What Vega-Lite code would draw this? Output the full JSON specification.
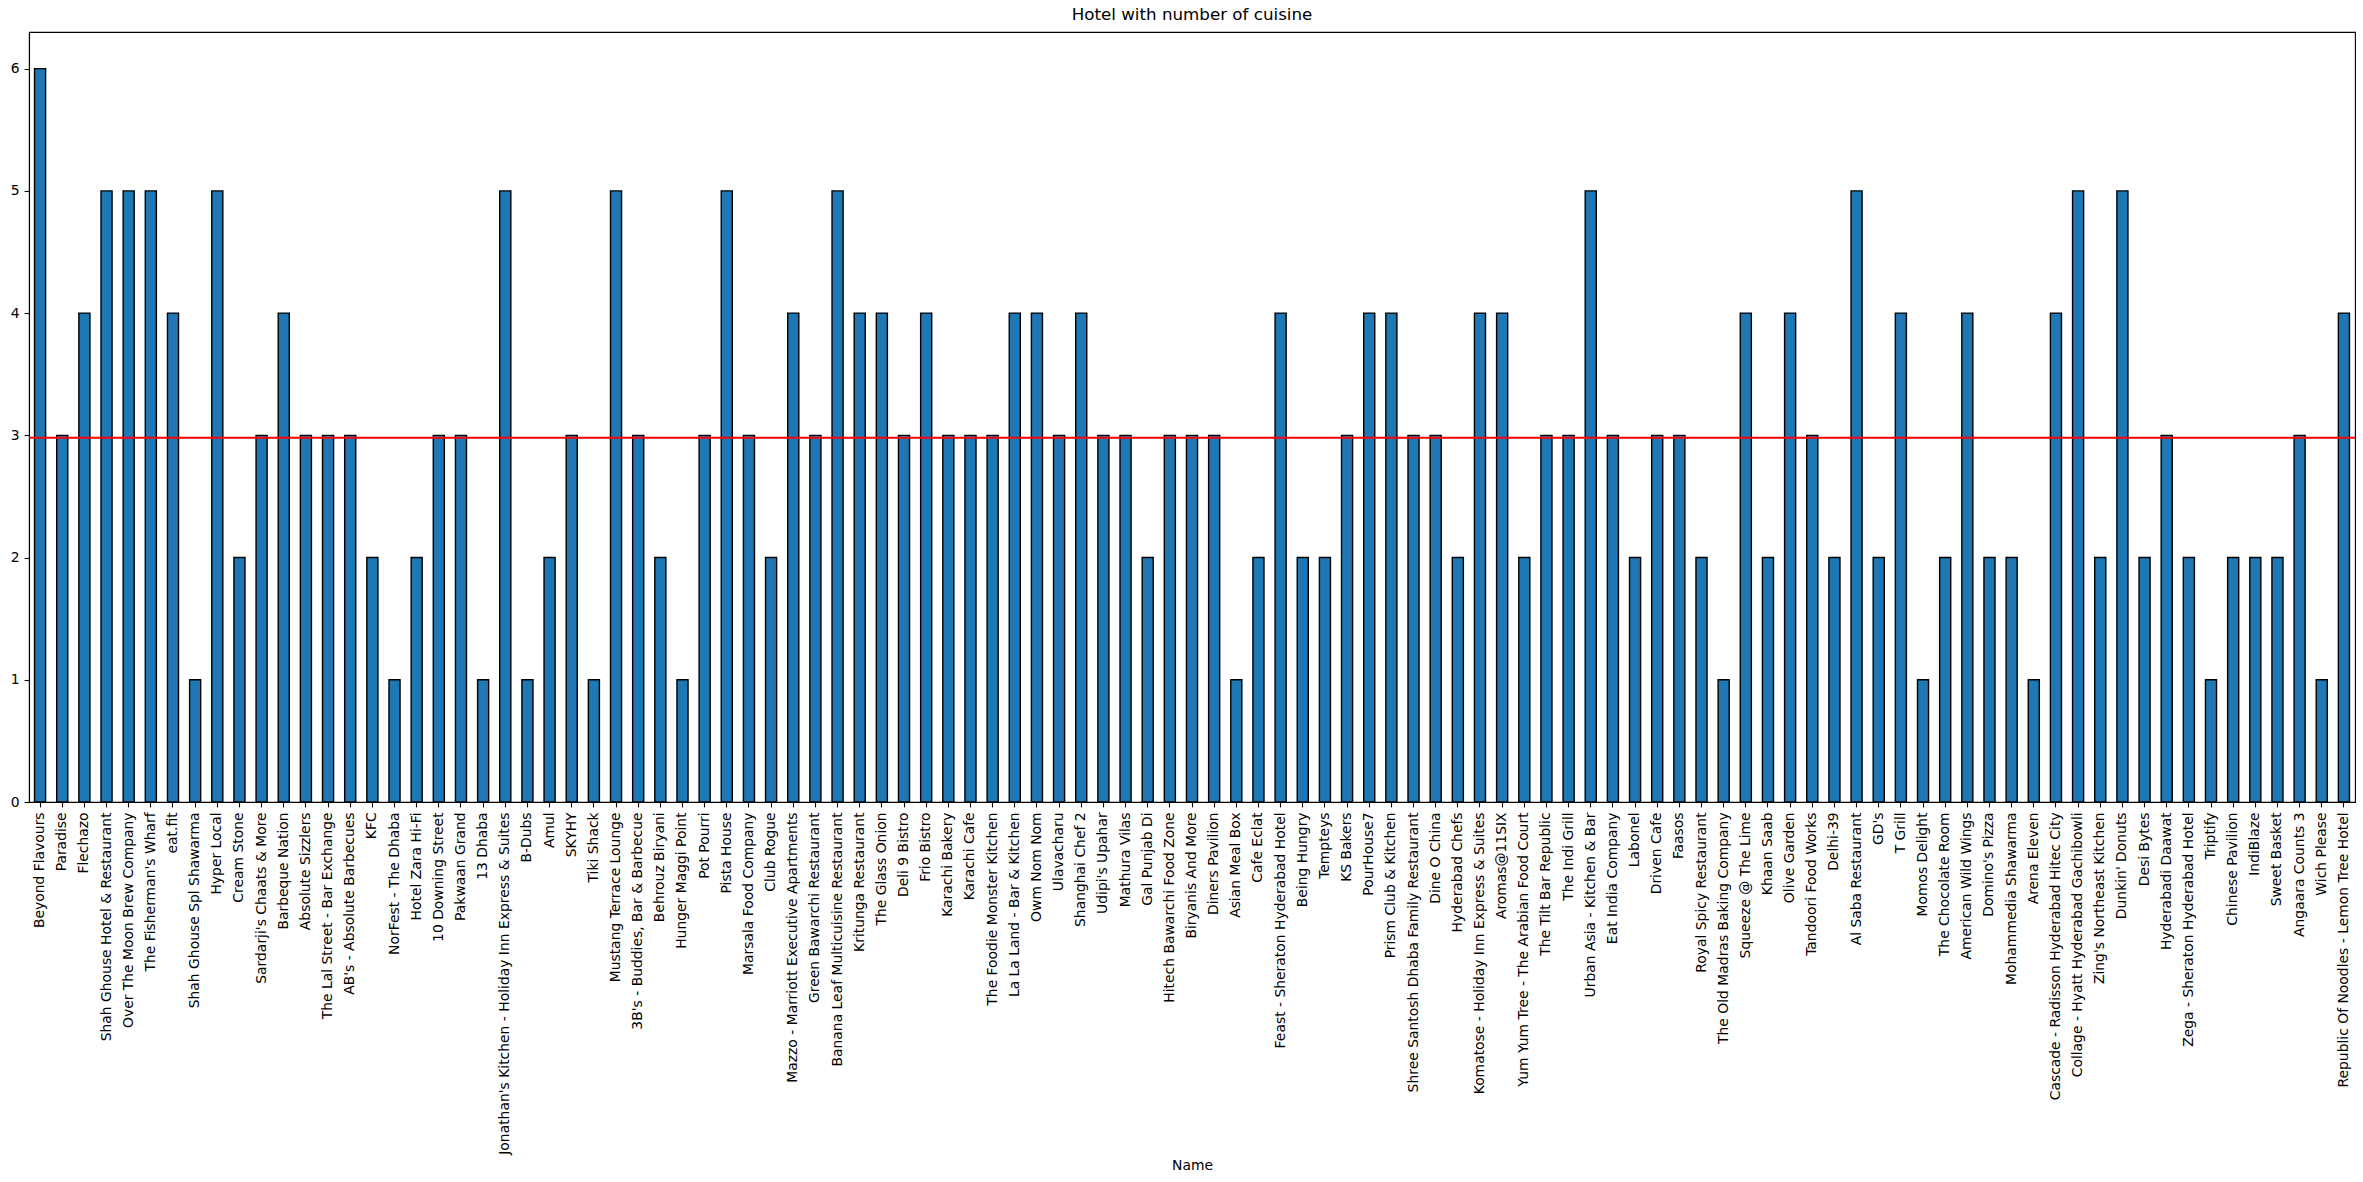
{
  "$schema": "https://vega.github.io/schema/vega-lite/v6.json",
  "autosize": {"type": "none"},
  "width": 2326,
  "height": 770,
  "padding": {"left": 29, "top": 32, "right": 8, "bottom": 380},
  "background": "white",
  "title": {"text": "Hotel with number of cuisine", "fontSize": 16.7, "font": "DejaVu Sans", "fontWeight": "normal", "color": "black", "offset": 8, "anchor": "middle"},
  "config": {
    "view": {"stroke": "black", "strokeWidth": 1.1},
    "axis": {"labelFont": "DejaVu Sans", "titleFont": "DejaVu Sans", "labelFontSize": 13.9, "titleFontSize": 13.9, "titleFontWeight": "normal", "labelColor": "black", "titleColor": "black", "tickColor": "black", "domainColor": "black", "tickSize": 4.9, "tickWidth": 1.1, "domainWidth": 1.1, "grid": false}
  },
  "data": {"values": [
    {"Name": "Beyond Flavours", "Cuisines": 6},
    {"Name": "Paradise", "Cuisines": 3},
    {"Name": "Flechazo", "Cuisines": 4},
    {"Name": "Shah Ghouse Hotel & Restaurant", "Cuisines": 5},
    {"Name": "Over The Moon Brew Company", "Cuisines": 5},
    {"Name": "The Fisherman's Wharf", "Cuisines": 5},
    {"Name": "eat.fit", "Cuisines": 4},
    {"Name": "Shah Ghouse Spl Shawarma", "Cuisines": 1},
    {"Name": "Hyper Local", "Cuisines": 5},
    {"Name": "Cream Stone", "Cuisines": 2},
    {"Name": "Sardarji's Chaats & More", "Cuisines": 3},
    {"Name": "Barbeque Nation", "Cuisines": 4},
    {"Name": "Absolute Sizzlers", "Cuisines": 3},
    {"Name": "The Lal Street - Bar Exchange", "Cuisines": 3},
    {"Name": "AB's - Absolute Barbecues", "Cuisines": 3},
    {"Name": "KFC", "Cuisines": 2},
    {"Name": "NorFest - The Dhaba", "Cuisines": 1},
    {"Name": "Hotel Zara Hi-Fi", "Cuisines": 2},
    {"Name": "10 Downing Street", "Cuisines": 3},
    {"Name": "Pakwaan Grand", "Cuisines": 3},
    {"Name": "13 Dhaba", "Cuisines": 1},
    {"Name": "Jonathan's Kitchen - Holiday Inn Express & Suites", "Cuisines": 5},
    {"Name": "B-Dubs", "Cuisines": 1},
    {"Name": "Amul", "Cuisines": 2},
    {"Name": "SKYHY", "Cuisines": 3},
    {"Name": "Tiki Shack", "Cuisines": 1},
    {"Name": "Mustang Terrace Lounge", "Cuisines": 5},
    {"Name": "3B's - Buddies, Bar & Barbecue", "Cuisines": 3},
    {"Name": "Behrouz Biryani", "Cuisines": 2},
    {"Name": "Hunger Maggi Point", "Cuisines": 1},
    {"Name": "Pot Pourri", "Cuisines": 3},
    {"Name": "Pista House", "Cuisines": 5},
    {"Name": "Marsala Food Company", "Cuisines": 3},
    {"Name": "Club Rogue", "Cuisines": 2},
    {"Name": "Mazzo - Marriott Executive Apartments", "Cuisines": 4},
    {"Name": "Green Bawarchi Restaurant", "Cuisines": 3},
    {"Name": "Banana Leaf Multicuisine Restaurant", "Cuisines": 5},
    {"Name": "Kritunga Restaurant", "Cuisines": 4},
    {"Name": "The Glass Onion", "Cuisines": 4},
    {"Name": "Deli 9 Bistro", "Cuisines": 3},
    {"Name": "Frio Bistro", "Cuisines": 4},
    {"Name": "Karachi Bakery", "Cuisines": 3},
    {"Name": "Karachi Cafe", "Cuisines": 3},
    {"Name": "The Foodie Monster Kitchen", "Cuisines": 3},
    {"Name": "La La Land - Bar & Kitchen", "Cuisines": 4},
    {"Name": "Owm Nom Nom", "Cuisines": 4},
    {"Name": "Ulavacharu", "Cuisines": 3},
    {"Name": "Shanghai Chef 2", "Cuisines": 4},
    {"Name": "Udipi's Upahar", "Cuisines": 3},
    {"Name": "Mathura Vilas", "Cuisines": 3},
    {"Name": "Gal Punjab Di", "Cuisines": 2},
    {"Name": "Hitech Bawarchi Food Zone", "Cuisines": 3},
    {"Name": "Biryanis And More", "Cuisines": 3},
    {"Name": "Diners Pavilion", "Cuisines": 3},
    {"Name": "Asian Meal Box", "Cuisines": 1},
    {"Name": "Cafe Eclat", "Cuisines": 2},
    {"Name": "Feast - Sheraton Hyderabad Hotel", "Cuisines": 4},
    {"Name": "Being Hungry", "Cuisines": 2},
    {"Name": "Tempteys", "Cuisines": 2},
    {"Name": "KS Bakers", "Cuisines": 3},
    {"Name": "PourHouse7", "Cuisines": 4},
    {"Name": "Prism Club & Kitchen", "Cuisines": 4},
    {"Name": "Shree Santosh Dhaba Family Restaurant", "Cuisines": 3},
    {"Name": "Dine O China", "Cuisines": 3},
    {"Name": "Hyderabad Chefs", "Cuisines": 2},
    {"Name": "Komatose - Holiday Inn Express & Suites", "Cuisines": 4},
    {"Name": "Aromas@11SIX", "Cuisines": 4},
    {"Name": "Yum Yum Tree - The Arabian Food Court", "Cuisines": 2},
    {"Name": "The Tilt Bar Republic", "Cuisines": 3},
    {"Name": "The Indi Grill", "Cuisines": 3},
    {"Name": "Urban Asia - Kitchen & Bar", "Cuisines": 5},
    {"Name": "Eat India Company", "Cuisines": 3},
    {"Name": "Labonel", "Cuisines": 2},
    {"Name": "Driven Cafe", "Cuisines": 3},
    {"Name": "Faasos", "Cuisines": 3},
    {"Name": "Royal Spicy Restaurant", "Cuisines": 2},
    {"Name": "The Old Madras Baking Company", "Cuisines": 1},
    {"Name": "Squeeze @ The Lime", "Cuisines": 4},
    {"Name": "Khaan Saab", "Cuisines": 2},
    {"Name": "Olive Garden", "Cuisines": 4},
    {"Name": "Tandoori Food Works", "Cuisines": 3},
    {"Name": "Delhi-39", "Cuisines": 2},
    {"Name": "Al Saba Restaurant", "Cuisines": 5},
    {"Name": "GD's", "Cuisines": 2},
    {"Name": "T Grill", "Cuisines": 4},
    {"Name": "Momos Delight", "Cuisines": 1},
    {"Name": "The Chocolate Room", "Cuisines": 2},
    {"Name": "American Wild Wings", "Cuisines": 4},
    {"Name": "Domino's Pizza", "Cuisines": 2},
    {"Name": "Mohammedia Shawarma", "Cuisines": 2},
    {"Name": "Arena Eleven", "Cuisines": 1},
    {"Name": "Cascade - Radisson Hyderabad Hitec City", "Cuisines": 4},
    {"Name": "Collage - Hyatt Hyderabad Gachibowli", "Cuisines": 5},
    {"Name": "Zing's Northeast Kitchen", "Cuisines": 2},
    {"Name": "Dunkin' Donuts", "Cuisines": 5},
    {"Name": "Desi Bytes", "Cuisines": 2},
    {"Name": "Hyderabadi Daawat", "Cuisines": 3},
    {"Name": "Zega - Sheraton Hyderabad Hotel", "Cuisines": 2},
    {"Name": "Triptify", "Cuisines": 1},
    {"Name": "Chinese Pavilion", "Cuisines": 2},
    {"Name": "IndiBlaze", "Cuisines": 2},
    {"Name": "Sweet Basket", "Cuisines": 2},
    {"Name": "Angaara Counts 3", "Cuisines": 3},
    {"Name": "Wich Please", "Cuisines": 1},
    {"Name": "Republic Of Noodles - Lemon Tree Hotel", "Cuisines": 4}
  ]},
  "layer": [
    {
      "mark": {"type": "bar", "fill": "#1f77b4", "stroke": "black", "strokeWidth": 1.4},
      "encoding": {
        "x": {"field": "Name", "type": "nominal", "sort": null,
              "scale": {"paddingInner": 0.5, "paddingOuter": 0.25},
              "axis": {"title": "Name", "labelAngle": -90, "labelOverlap": false, "labelLimit": 1000, "labelPadding": 5, "titleY": 363, "titleBaseline": "middle"}},
        "y": {"field": "Cuisines", "type": "quantitative",
              "scale": {"domain": [0, 6.3], "nice": false, "zero": true},
              "axis": {"title": null, "values": [0, 1, 2, 3, 4, 5, 6], "format": "d", "labelPadding": 5}}
      }
    },
    {
      "mark": {"type": "rule", "color": "red", "strokeWidth": 2},
      "encoding": {
        "y": {"aggregate": "mean", "field": "Cuisines", "type": "quantitative"}
      }
    }
  ]
}
